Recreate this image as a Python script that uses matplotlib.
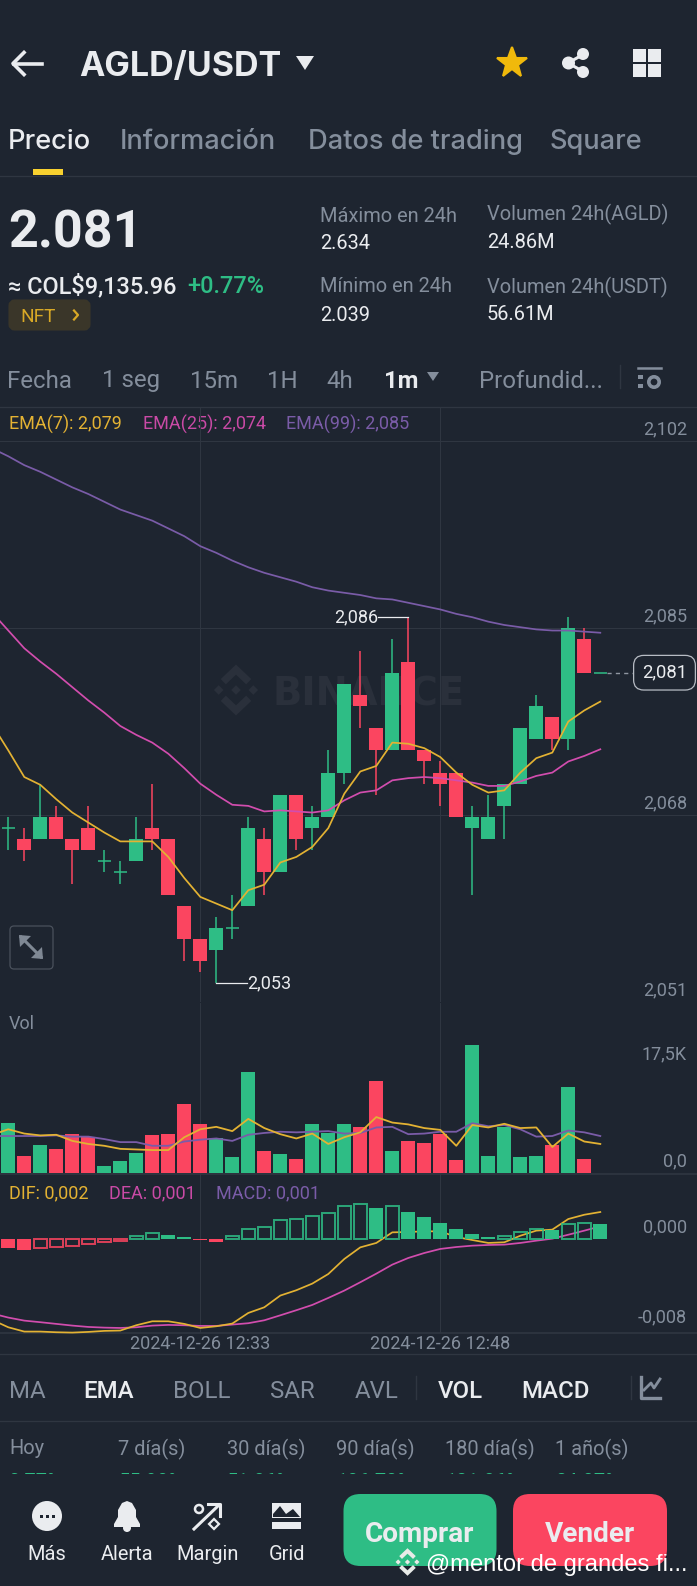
import numpy as np
import matplotlib
matplotlib.use('Agg')
import matplotlib.pyplot as plt
from matplotlib.patches import Circle, FancyBboxPatch, Polygon, Rectangle

plt.rcParams['font.family'] = ['Roboto', 'DejaVu Sans']

# prices are in thousandths of USDT, so 2067 means 2,067
open_px = [2067, 2066, 2066, 2068, 2066, 2067, 2064, 2063, 2064, 2067, 2066, 2060, 2057, 2056, 2058, 2060, 2066, 2063, 2070,
           2067, 2068, 2072, 2079, 2076, 2074, 2082, 2074, 2072, 2072, 2067, 2066, 2069, 2071, 2075, 2077, 2075, 2084, 2081]
high_px = [2068, 2067, 2071, 2069, 2066, 2069, 2065, 2064, 2068, 2071, 2066, 2060, 2057, 2059, 2061, 2068, 2067, 2070, 2070,
           2069, 2074, 2080, 2083, 2076, 2084, 2086, 2074, 2073, 2072, 2069, 2070, 2071, 2076, 2079, 2077, 2086, 2085, 2081]
low_px = [2065, 2064, 2066, 2066, 2062, 2065, 2063, 2062, 2064, 2065, 2061, 2055, 2054, 2053, 2057, 2060, 2061, 2063, 2065,
          2065, 2068, 2071, 2076, 2070, 2074, 2074, 2071, 2069, 2068, 2061, 2066, 2066, 2071, 2075, 2074, 2074, 2081, 2081]
close_px = [2067, 2065, 2068, 2066, 2065, 2065, 2064, 2063, 2066, 2066, 2061, 2057, 2055, 2058, 2058, 2067, 2063, 2070, 2066,
            2068, 2072, 2080, 2078, 2074, 2081, 2074, 2073, 2071, 2068, 2068, 2068, 2071, 2076, 2078, 2075, 2085, 2081, 2081]

# the line arrays start one candle earlier than the candles, that candle is off the left edge
ema7 = [2076.3, 2074.0, 2071.6, 2070.9, 2069.6, 2068.4, 2067.5, 2066.6, 2065.8, 2065.8, 2065.8, 2064.4, 2062.5, 2060.8, 2060.2,
        2059.6, 2061.4, 2061.9, 2063.9, 2064.4, 2065.3, 2067.0, 2070.1, 2072.1, 2072.6, 2074.7, 2074.6, 2074.2, 2073.4, 2072.0,
        2070.9, 2070.2, 2070.4, 2072.0, 2073.3, 2073.8, 2076.6, 2077.6, 2078.4]
ema25 = [2086.4, 2084.8, 2083.2, 2082.0, 2080.9, 2079.7, 2078.5, 2077.4, 2076.2, 2075.4, 2074.7, 2073.7, 2072.4, 2071.0, 2070.0,
         2069.1, 2069.0, 2068.5, 2068.6, 2068.5, 2068.4, 2068.6, 2069.5, 2070.2, 2070.4, 2071.3, 2071.5, 2071.6, 2071.5, 2071.3,
         2071.1, 2070.8, 2070.8, 2071.2, 2071.7, 2072.0, 2073.0, 2073.5, 2074.1]
ema99 = [2101.2, 2100.5, 2099.7, 2099.1, 2098.4, 2097.7, 2097.1, 2096.4, 2095.7, 2095.2, 2094.7, 2094.0, 2093.3, 2092.4, 2091.8,
         2091.1, 2090.5, 2090.0, 2089.6, 2089.2, 2088.7, 2088.4, 2088.2, 2088.0, 2087.7, 2087.6, 2087.3, 2087.0, 2086.7, 2086.3,
         2086.0, 2085.6, 2085.3, 2085.1, 2084.9, 2084.8, 2084.8, 2084.7, 2084.6]

# volume in thousands
volume = [8.3, 2.9, 4.6, 4.0, 6.5, 6.0, 1.2, 2.0, 3.4, 6.2, 6.4, 11.3, 8.1, 5.7, 2.7, 16.6, 3.6, 3.2, 2.3, 8.0, 6.6, 8.1,
          7.6, 15.1, 3.6, 5.3, 5.0, 6.4, 2.1, 21.0, 2.8, 7.6, 2.6, 2.8, 4.6, 14.1, 2.3, 0.0]
vol_fast = [6.3, 7.2, 6.5, 6.2, 6.3, 5.3, 4.8, 4.5, 4.0, 3.9, 3.8, 3.8, 5.9, 7.2, 7.6, 6.9, 8.9, 7.4, 6.4, 5.7, 6.5, 4.8, 5.9,
            6.7, 9.2, 8.3, 8.0, 7.4, 7.1, 4.5, 7.9, 7.5, 8.1, 7.4, 7.5, 4.3, 6.5, 5.2, 4.8]
vol_slow = [6.1, 6.1, 6.1, 6.1, 6.2, 6.0, 6.0, 5.6, 5.1, 5.1, 4.5, 4.5, 5.2, 5.5, 5.7, 5.3, 6.3, 6.6, 6.8, 6.7, 6.8, 6.9, 6.5,
            6.6, 7.5, 7.6, 6.4, 6.5, 6.8, 6.8, 8.2, 7.7, 7.9, 7.2, 6.0, 6.1, 7.0, 6.7, 6.1]

# macd panel, thousandths too
macd_hist = [-0.8, -1.0, -0.8, -0.7, -0.6, -0.45, -0.3, -0.2, 0.27, 0.53, 0.35, 0.15, -0.12, -0.25, 0.27, 0.9, 1.1, 1.7, 1.8,
             2.0, 2.3, 2.9, 3.07, 2.74, 2.95, 2.42, 1.95, 1.45, 0.86, 0.44, 0.18, 0.3, 0.6, 0.9, 0.77, 1.36, 1.45, 1.33]
dif = [-7.17, -7.82, -8.2, -8.2, -8.26, -8.29, -8.23, -8.14, -8.11, -7.64, -7.29, -7.29, -7.52, -7.88, -7.73, -7.49, -6.55, -6.05,
       -5.01, -4.54, -3.95, -3.1, -1.77, -0.74, -0.35, 0.59, 0.62, 0.68, 0.68, 0.18, -0.09, -0.35, -0.29, 0.29, 0.74, 0.83,
       1.77, 2.15, 2.39]
dea = [-6.6, -6.96, -7.23, -7.37, -7.52, -7.67, -7.79, -7.85, -7.88, -7.82, -7.67, -7.61, -7.64, -7.7, -7.7, -7.58, -7.46, -7.2,
       -6.76, -6.31, -5.84, -5.22, -4.57, -3.83, -3.07, -2.27, -1.68, -1.24, -0.88, -0.71, -0.59, -0.53, -0.5, -0.35, -0.15,
       0.03, 0.38, 0.74, 1.12]

price_ticks = [2101.85, 2085.0, 2068.15, 2051.3]
price_tick_labels = ['2,102', '2,085', '2,068', '2,051']
vol_ticks = [17.5, 0.0]
vol_tick_labels = ['17,5K', '0,0']
macd_ticks = [0.0, -8.0]
macd_tick_labels = ['0,000', '-0,008']
time_index = [12, 27]
time_labels = ['2024-12-26 12:33', '2024-12-26 12:48']

BG = '#1e2530'
GRID = '#2f3641'
GREEN = '#2ebd85'
RED = '#fb4560'
GREY = '#848e9c'
WHITE = '#eaecef'
YELLOW = '#f0b90b'
C_EMA7 = '#e3b233'
C_EMA25 = '#c94aa6'
C_EMA99 = '#7a5ca8'
LINE_EMA25 = '#d24dae'
W, H = 697, 1586


def px(n):
    return n * 0.72


def panel(fig, top, bottom, ylim):
    ax = fig.add_axes([0, 1 - bottom / H, 1, (bottom - top) / H], zorder=2)
    ax.patch.set_alpha(0)
    ax.set_xlim(-8.3 / 16, (W - 8.3) / 16)
    ax.set_ylim(*ylim)
    ax.axis('off')
    for i in time_index:
        ax.axvline(i, color=GRID, lw=0.8, zorder=0)
    return ax


def right_labels(ax, ticks, labels):
    for t, s in zip(ticks, labels):
        ax.annotate(s, xy=(687 / W, t), xycoords=ax.get_yaxis_transform(), xytext=(0, px(13.5)),
                    textcoords='offset points', ha='right', va='center_baseline', fontsize=px(18), color=GREY, zorder=6)


def logo(ui, cx, cy, s, color, zorder=1):
    # binance mark: centre and side diamonds plus two chevrons
    for dx, dy in [(0, 0), (-0.72, 0), (0.72, 0)]:
        r = 0.2
        ui.add_patch(Polygon([(cx + (dx - r) * s, cy + dy * s), (cx + dx * s, cy + (dy - r) * s),
                              (cx + (dx + r) * s, cy + dy * s), (cx + dx * s, cy + (dy + r) * s)],
                             color=color, lw=0, zorder=zorder))
    for sign in (-1, 1):
        ui.plot([cx - 0.42 * s, cx, cx + 0.42 * s],
                [cy + sign * 0.45 * s, cy + sign * 0.85 * s, cy + sign * 0.45 * s],
                color=color, lw=s * 0.22, solid_joinstyle='miter', zorder=zorder)


def draw_ui(ui):
    def t(x, y, s, size, color=GREY, weight='normal', ha='left', **kw):
        ui.text(x, y, s, fontsize=px(size), color=color, weight=weight, ha=ha, va='center_baseline', **kw)

    # header
    ui.plot([42, 14], [63.5, 63.5], color=WHITE, lw=2.6)
    ui.plot([24, 13, 24], [52.5, 63.5, 74.5], color=WHITE, lw=2.6)
    t(79, 64, 'AGLD/USDT', 34, WHITE, 'bold', family='Inter')
    ui.add_patch(Polygon([(296, 56), (314, 56), (305, 70)], color=WHITE, lw=0))
    ui.plot([512], [63], marker='*', ms=23, color=YELLOW, mec=YELLOW, mew=1.5)
    ui.plot([584, 568, 584], [54, 63, 72], color=WHITE, lw=2.2)
    for x, y, r in [(583, 54, 6), (568.5, 63, 6.5), (583, 72, 6)]:
        ui.add_patch(Circle((x, y), r, color=WHITE, lw=0))
    for x, y in [(633, 49), (648, 49), (633, 64), (648, 64)]:
        ui.add_patch(Rectangle((x, y), 13, 13, color=WHITE, lw=0))

    # tabs
    t(8, 139, 'Precio', 27.2, WHITE, 'medium', family='Inter')
    t(120, 139, 'Información', 27.2, GREY, 'medium', family='Inter')
    t(308, 139, 'Datos de trading', 27.2, GREY, 'medium', family='Inter')
    t(550, 139, 'Square', 27.2, GREY, 'medium', family='Inter')
    ui.add_patch(Rectangle((33, 169), 30, 6, color='#f8d12f', lw=0))
    ui.plot([0, W], [175.7, 175.7], color=GRID, lw=0.9)

    # price block
    t(8, 228, '2.081', 52, WHITE, 'bold')
    t(8, 284, '≈ COL$9,135.96', 23.5, WHITE, 'medium')
    t(187, 284, '+0.77%', 23.5, GREEN, 'medium')
    ui.add_patch(FancyBboxPatch((14, 305), 71, 20, boxstyle='round,pad=0,rounding_size=1', mutation_scale=1,
                                fc='#3a3629', ec='#3a3629', lw=8))
    t(20, 315, 'NFT', 19, '#d9a926')
    ui.plot([74, 78, 74], [310.5, 315, 319.5], color='#d9a926', lw=1.6)

    t(320, 214, 'Máximo en 24h', 20)
    t(320, 241.5, '2.634', 20, WHITE)
    t(320, 285, 'Mínimo en 24h', 20)
    t(320, 313.5, '2.039', 20, WHITE)
    t(487, 212, 'Volumen 24h(AGLD)', 20)
    t(487, 241, '24.86M', 20, WHITE)
    t(487, 285, 'Volumen 24h(USDT)', 20)
    t(487, 313, '56.61M', 20, WHITE)

    # interval row
    for x, s in [(7, 'Fecha'), (102, '1 seg'), (190, '15m'), (267, '1H'), (326, '4h'), (479, 'Profundid...')]:
        t(x, 378.5, s, 24)
    t(384, 378.5, '1m', 24, WHITE, 'bold')
    ui.add_patch(Polygon([(427, 372), (439, 372), (433, 381)], color=GREY, lw=0))
    ui.plot([620, 620], [365, 388], color=GRID, lw=1)
    ui.plot([638, 661], [367.5, 367.5], color=GREY, lw=1.8)
    ui.add_patch(Rectangle((638, 375), 5, 4, color=GREY, lw=0))
    ui.add_patch(Rectangle((638, 384), 5, 4, color=GREY, lw=0))
    ui.add_patch(Circle((654, 382), 5.2, fc=BG, ec=GREY, lw=2.6))

    # chart frame
    ui.plot([0, W], [407, 407], color=GRID, lw=0.9)
    ui.plot([0, W], [1173.5, 1173.5], color=GRID, lw=1.2)
    ui.plot([0, W], [1333, 1333], color=GRID, lw=1.2)
    ui.plot([0, W], [1354, 1354], color=GRID, lw=0.9)
    ui.plot([0, W], [1421, 1421], color=GRID, lw=0.9)

    t(9, 422, 'EMA(7): 2,079', 18, C_EMA7)
    t(143, 422, 'EMA(25): 2,074', 18, C_EMA25)
    t(286, 422, 'EMA(99): 2,085', 18, C_EMA99)
    t(9, 1022, 'Vol', 18)
    t(9, 1191.5, 'DIF: 0,002', 18, C_EMA7)
    t(109, 1191.5, 'DEA: 0,001', 18, C_EMA25)
    t(216, 1191.5, 'MACD: 0,001', 18, C_EMA99)

    # watermark
    logo(ui, 236, 690, 24, '#2a303b')
    t(272, 690, 'BINANCE', 38.5, '#2a303b', 'bold', family='DejaVu Sans')

    # expand button
    ui.add_patch(FancyBboxPatch((10, 926), 43, 43, boxstyle='round,pad=0,rounding_size=4', fc=BG, ec='#4a515c', lw=0.9))
    ui.plot([21, 41], [937, 957], color='#7f8894', lw=2.2)
    ui.add_patch(Polygon([(19, 935), (31, 936), (20, 947)], color='#7f8894', lw=0))
    ui.add_patch(Polygon([(43, 959), (31, 958), (42, 947)], color='#7f8894', lw=0))

    # indicator row
    for x, s in [(9, 'MA'), (173, 'BOLL'), (270, 'SAR'), (355, 'AVL')]:
        t(x, 1389, s, 24)
    for x, s in [(83, 'EMA'), (438, 'VOL'), (521, 'MACD')]:
        t(x, 1389, s, 24, WHITE, 'medium')
    ui.plot([416, 416], [1376, 1399], color=GRID, lw=1)
    ui.plot([631, 631], [1376, 1399], color=GRID, lw=1)
    ui.plot([640.5, 640.5, 660], [1377, 1397.5, 1397.5], color=GREY, lw=2.4)
    ui.plot([644, 651, 654, 660], [1390, 1383, 1388, 1379], color=GREY, lw=2)

    # performance row, values are cut off by the bottom bar
    perf_x = [9, 118, 227, 336, 445, 555]
    for x, s in zip(perf_x, ['Hoy', '7 día(s)', '30 día(s)', '90 día(s)', '180 día(s)', '1 año(s)']):
        t(x, 1447, s, 20)
    for x, s in zip(perf_x, ['0.77%', '55.98%', '51.86%', '186.73%', '121.86%', '24.87%']):
        t(x, 1480, s, 20, GREEN, zorder=1)
    ui.add_patch(Rectangle((0, 1474), W, H - 1474, color=BG, lw=0, zorder=1.5))

    # bottom bar
    kw = dict(zorder=3)
    ui.add_patch(Circle((47, 1516), 15, color=WHITE, lw=0, **kw))
    for x in (41, 47, 53):
        ui.add_patch(Rectangle((x - 1.5, 1514.5), 3, 3, color=BG, lw=0, zorder=4))
    ui.add_patch(Polygon([(114, 1524), (118, 1517), (118, 1510), (122, 1503), (127, 1501), (132, 1503), (136, 1510),
                          (136, 1517), (140, 1524), (140, 1527), (114, 1527)], color=WHITE, lw=0, **kw))
    ui.add_patch(Circle((127, 1528), 4, color=WHITE, lw=0, **kw))
    ui.plot([194, 219], [1529, 1505], color=WHITE, lw=2.2, **kw)
    ui.plot([208, 220, 220], [1504, 1504, 1516], color=WHITE, lw=2.2, **kw)
    ui.add_patch(Circle((199, 1509), 4, fc=BG, ec=WHITE, lw=1.8, **kw))
    ui.add_patch(Polygon([(214, 1519), (219, 1524), (214, 1529), (209, 1524)], fc=BG, ec=WHITE, lw=1.6, **kw))
    ui.add_patch(Rectangle((272, 1503), 29, 15, color=WHITE, lw=0, **kw))
    ui.add_patch(Polygon([(273, 1514), (280, 1506), (286, 1514), (293, 1509), (300, 1517), (273, 1517)], color=BG, lw=0, zorder=4))
    ui.add_patch(Rectangle((272, 1522), 29, 7, color=WHITE, lw=0, **kw))
    for x, s in [(47, 'Más'), (127, 'Alerta'), (208, 'Margin'), (286.5, 'Grid')]:
        t(x, 1552, s, 20, WHITE, ha='center', zorder=3)

    ui.add_patch(FancyBboxPatch((343.5, 1494), 153, 72, boxstyle='round,pad=0,rounding_size=17', color=GREEN, lw=0, **kw))
    ui.add_patch(FancyBboxPatch((513, 1494), 154, 72, boxstyle='round,pad=0,rounding_size=17', color=RED, lw=0, **kw))
    t(420, 1532, 'Comprar', 28, WHITE, 'bold', ha='center', zorder=4)
    t(590, 1532, 'Vender', 28, WHITE, 'bold', ha='center', zorder=4)

    # share watermark
    logo(ui, 407.5, 1562, 13, '#e8ebe8', zorder=5)
    ui.text(426, 1562.5, '@mentor de grandes fi...', fontsize=px(23.8), color='white', family='Liberation Sans',
            ha='left', va='center_baseline', zorder=5)


def draw_price(ax, idx, line_idx):
    o, h, l, c = map(np.array, (open_px, high_px, low_px, close_px))
    colors = [GREEN if up else RED for up in c >= o]
    for p in price_ticks:
        ax.plot([idx[0] - 1, idx[-1] + 6], [p, p], color=GRID, lw=0.8, zorder=0)
    ax.vlines(idx, l, h, colors=colors, lw=1.1, zorder=2)
    ax.bar(idx, np.abs(c - o), bottom=np.minimum(o, c), width=0.89, color=colors, lw=0, zorder=2)
    doji = o == c
    ax.hlines(c[doji], idx[doji] - 0.42, idx[doji] + 0.42, colors=GREEN, lw=1.1, zorder=2)
    ax.plot(line_idx, ema99, color=C_EMA99, lw=1.25, zorder=3)
    ax.plot(line_idx, ema25, color=LINE_EMA25, lw=1.25, zorder=3)
    ax.plot(line_idx, ema7, color=C_EMA7, lw=1.25, zorder=3)
    right_labels(ax, price_ticks, price_tick_labels)

    # high, low and last price markers
    hi = int(np.argmax(h))
    lo = int(np.argmin(l))
    ax.plot([hi - 1.9, hi], [h[hi], h[hi]], color=WHITE, lw=0.9, zorder=4)
    ax.text(hi - 1.9, h[hi] + 0.15, f'2,{h[hi] - 2000:03d}', color=WHITE, fontsize=px(18), ha='right', va='center_baseline', zorder=4)
    ax.plot([lo, lo + 1.9], [l[lo], l[lo]], color=WHITE, lw=0.9, zorder=4)
    ax.text(lo + 1.95, l[lo] + 0.15, f'2,{l[lo] - 2000:03d}', color=WHITE, fontsize=px(18), ha='left', va='center_baseline', zorder=4)
    last = c[-1]
    ax.plot([idx[-1] + 0.42, idx[-1] + 2.05], [last, last], color='#8f96a1', lw=1, dashes=(3, 3), zorder=2)
    ax.text(664.5 / 16 - 8.3 / 16, last, f'2,{last - 2000:03d}', color=WHITE, fontsize=px(18.5), ha='center', va='center', zorder=6,
            bbox=dict(boxstyle='round,pad=0.45,rounding_size=0.55', fc=BG, ec='#b7bcc4', lw=0.9))


def draw_volume(ax, idx, line_idx):
    colors = [GREEN if cl >= op else RED for op, cl in zip(open_px, close_px)]
    ax.bar(idx, volume, width=0.89, color=colors, lw=0, zorder=2)
    ax.plot(line_idx, vol_slow, color=C_EMA99, lw=1.3, zorder=3)
    ax.plot(line_idx, vol_fast, color=C_EMA7, lw=1.3, zorder=3)
    right_labels(ax, vol_ticks, vol_tick_labels)


def draw_macd(ax, idx, line_idx):
    ax.plot(line_idx, dea, color=LINE_EMA25, lw=1.25, zorder=2, clip_on=False)
    ax.plot(line_idx, dif, color=C_EMA7, lw=1.25, zorder=2, clip_on=False)
    hist = np.array(macd_hist)
    colors = np.array([GREEN if v >= 0 else RED for v in hist])
    # bars rising against the previous one are drawn hollow
    rising = np.r_[False, hist[1:] > hist[:-1]]
    ax.bar(idx[~rising], hist[~rising], width=0.89, color=colors[~rising], lw=0, zorder=3)
    ax.bar(idx[rising], hist[rising], width=0.81, fc='none', ec=colors[rising], lw=1.4, alpha=0.85, zorder=3)
    right_labels(ax, macd_ticks, macd_tick_labels)


def main():
    fig = plt.figure(figsize=(W / 100, H / 100), dpi=100, facecolor=BG)
    ui = fig.add_axes([0, 0, 1, 1], zorder=1)
    ui.set_xlim(0, W)
    ui.set_ylim(H, 0)
    ui.axis('off')
    draw_ui(ui)

    idx = np.arange(len(close_px))
    line_idx = np.arange(-1, len(close_px))
    # y limits come from the pixel scale: 11.1 px per unit of price, 6.11 px per K of volume, 11.29 px per macd unit
    price_ax = panel(fig, 407, 1002, (2051.33, 2104.94))
    vol_ax = panel(fig, 1003, 1173.3, (0, 27.86))
    macd_ax = panel(fig, 1173.3, 1332.7, (-8.30, 5.82))
    draw_price(price_ax, idx, line_idx)
    draw_volume(vol_ax, idx, line_idx)
    draw_macd(macd_ax, idx, line_idx)

    for i, s in zip(time_index, time_labels):
        macd_ax.annotate(s, xy=(i, 0), xycoords=macd_ax.get_xaxis_transform(), xytext=(0, -px(11)),
                         textcoords='offset points', ha='center', va='center', fontsize=px(18), color=GREY)

    fig.savefig('out.png', dpi=100, facecolor=BG)


if __name__ == "__main__":
    main()
